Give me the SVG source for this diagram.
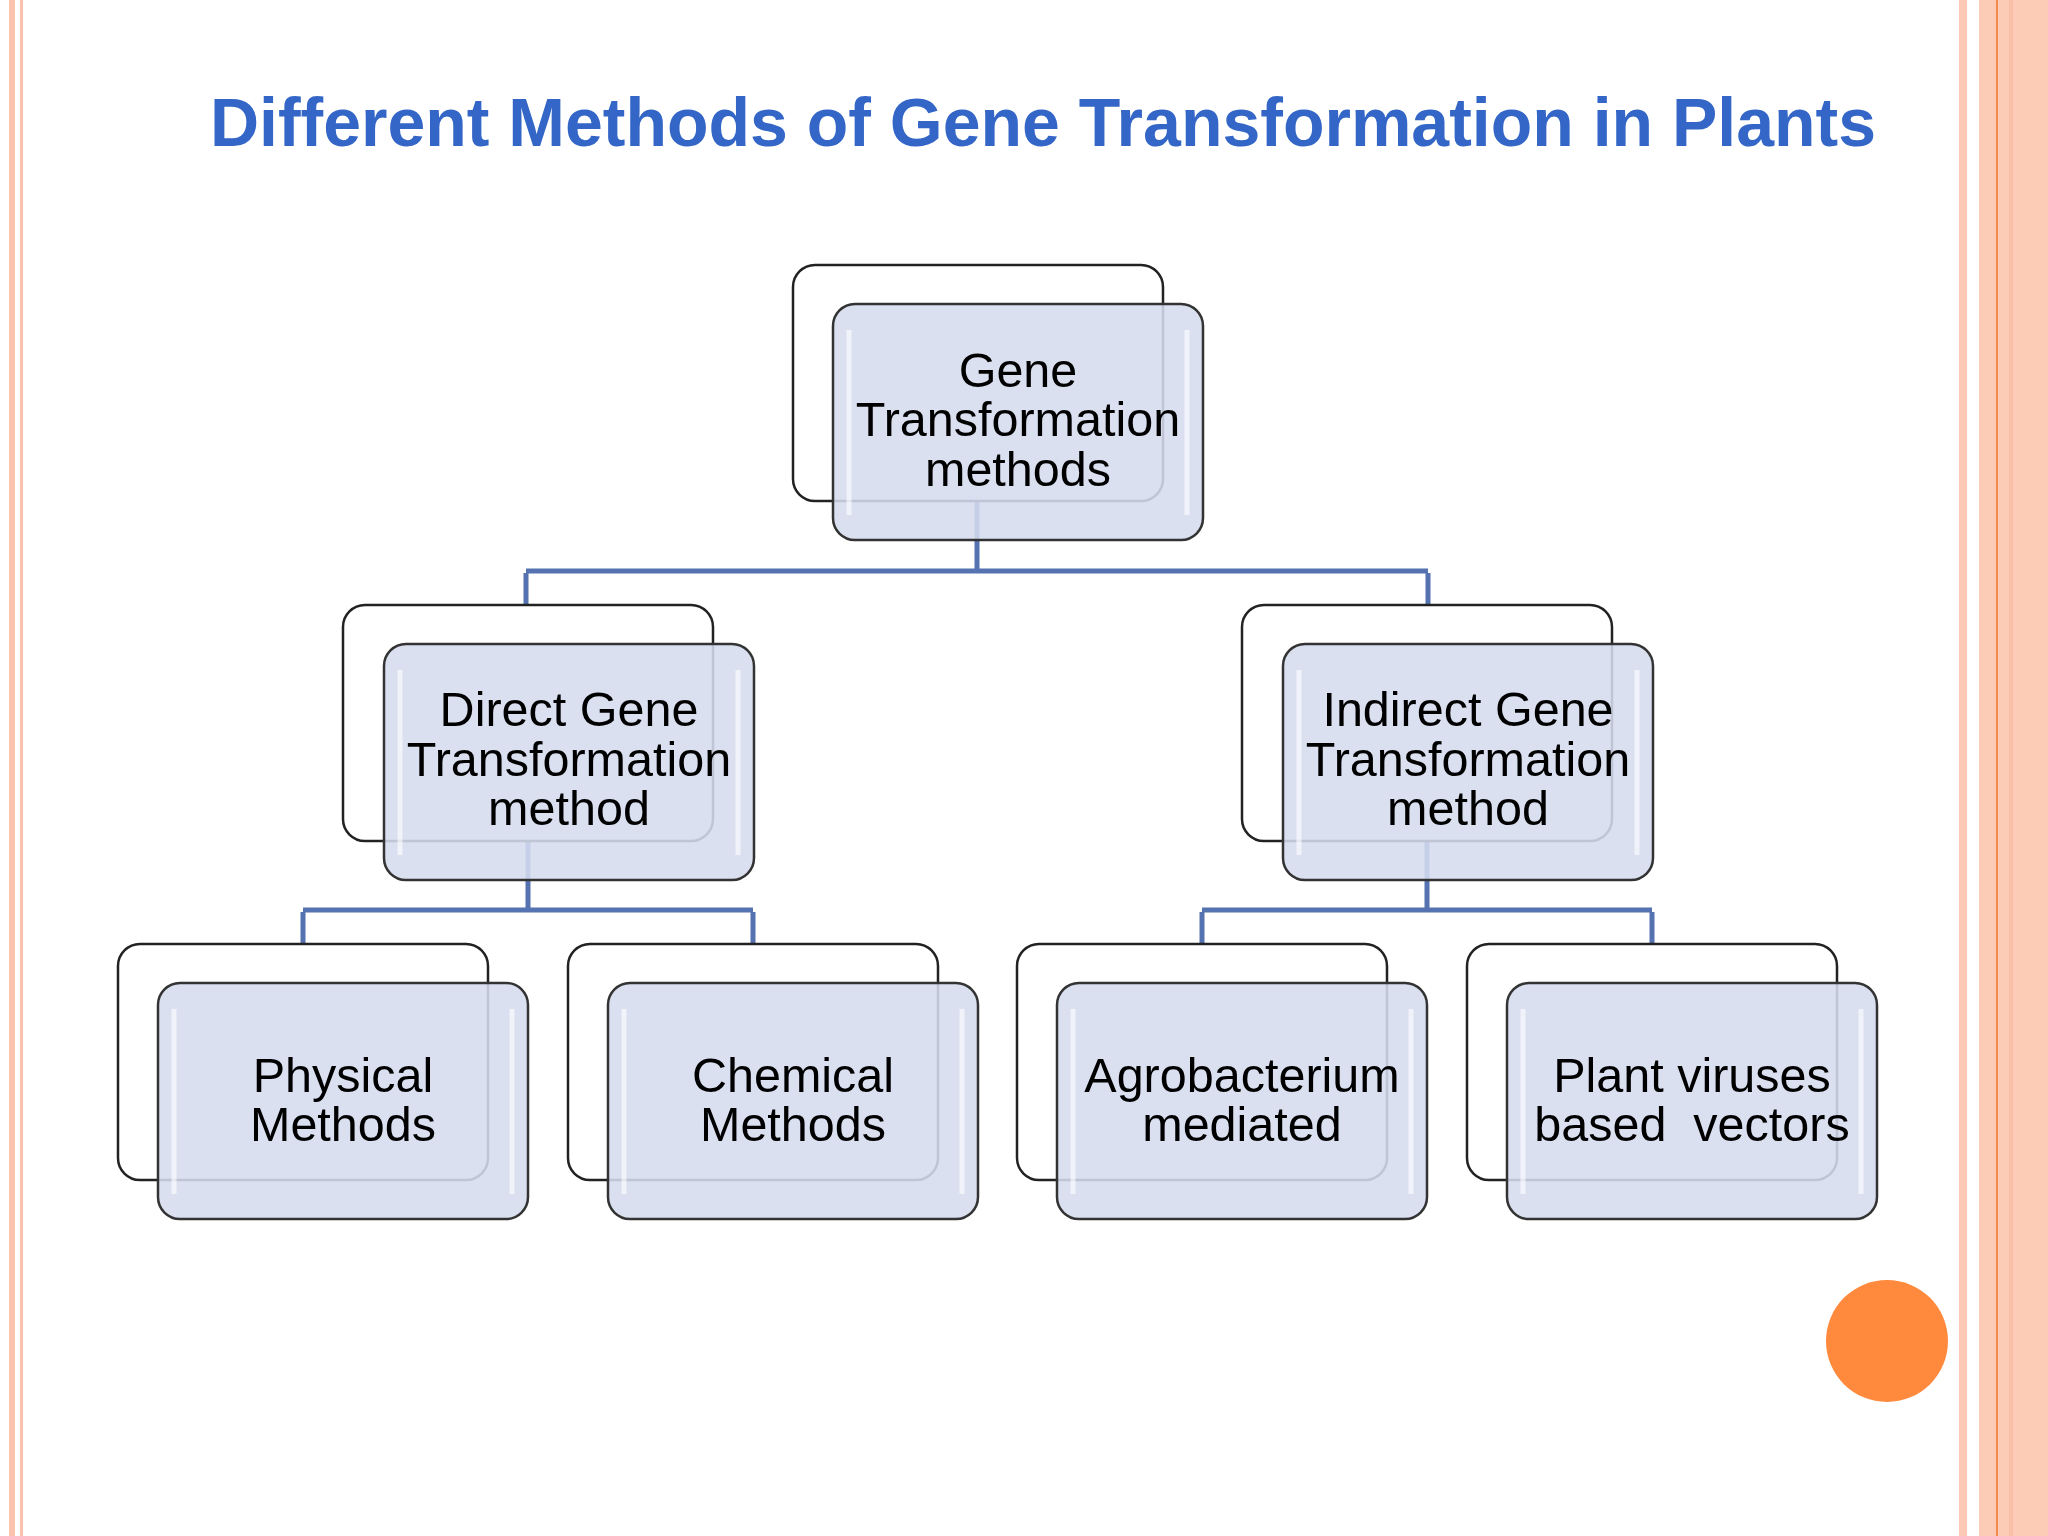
<svg xmlns="http://www.w3.org/2000/svg" width="2048" height="1536" viewBox="0 0 2048 1536">
<defs>
<style>
.back{fill:#fff;stroke:#222;stroke-width:2.5}
.front{fill:#D5DCEE;fill-opacity:0.88;stroke:#333;stroke-width:2.5}
.hl{fill:none;stroke:#fff;stroke-width:5;stroke-opacity:0.6}
.t{font-family:"Liberation Sans",Arial,sans-serif;font-size:48.5px;fill:#000;text-anchor:middle}
.c{fill:none;stroke:#5573B0;stroke-width:5}
</style>
</defs>
<rect width="2048" height="1536" fill="#fff"/>
<rect x="9" y="0" width="6" height="1536" fill="#F9C3AE"/>
<rect x="20" y="0" width="3" height="1536" fill="#F9C3AE"/>
<rect x="1959" y="0" width="8" height="1536" fill="#FBC9B4"/>
<rect x="1979" y="0" width="69" height="1536" fill="#FCCCB7"/>
<rect x="1996" y="0" width="2" height="1536" fill="#F28B4C"/>
<rect x="2009" y="0" width="4" height="1536" fill="#F9BFA8"/>
<text x="1043" y="146" font-family="Liberation Sans,Arial,sans-serif" font-weight="bold" font-size="68" fill="#3366C6" text-anchor="middle">Different Methods of Gene Transformation in Plants</text>
<g id="connectors">
<path class="c" d="M977 500V571M526 573V605M1428 573V605M526 571H1428"/>
<path class="c" d="M528 840V910M303 912V944M753 912V944M303 910H753"/>
<path class="c" d="M1427 840V910M1202 912V944M1652 912V944M1202 910H1652"/>
</g>
<g id="n0"><rect class="back" x="793" y="265" width="370" height="236" rx="22"/><rect class="front" x="833" y="304" width="370" height="236" rx="22"/><path class="hl" d="M849 330V515M1187 330V515"/><text class="t" x="1018" y="387">Gene</text><text class="t" x="1018" y="436">Transformation</text><text class="t" x="1018" y="486">methods</text></g>
<g id="n1"><rect class="back" x="343" y="605" width="370" height="236" rx="22"/><rect class="front" x="384" y="644" width="370" height="236" rx="22"/><path class="hl" d="M400 670V855M738 670V855"/><text class="t" x="569" y="726">Direct Gene</text><text class="t" x="569" y="776">Transformation</text><text class="t" x="569" y="825">method</text></g>
<g id="n2"><rect class="back" x="1242" y="605" width="370" height="236" rx="22"/><rect class="front" x="1283" y="644" width="370" height="236" rx="22"/><path class="hl" d="M1299 670V855M1637 670V855"/><text class="t" x="1468" y="726">Indirect Gene</text><text class="t" x="1468" y="776">Transformation</text><text class="t" x="1468" y="825">method</text></g>
<g id="n3"><rect class="back" x="118" y="944" width="370" height="236" rx="22"/><rect class="front" x="158" y="983" width="370" height="236" rx="22"/><path class="hl" d="M174 1009V1194M512 1009V1194"/><text class="t" x="343" y="1092">Physical</text><text class="t" x="343" y="1141">Methods</text></g>
<g id="n4"><rect class="back" x="568" y="944" width="370" height="236" rx="22"/><rect class="front" x="608" y="983" width="370" height="236" rx="22"/><path class="hl" d="M624 1009V1194M962 1009V1194"/><text class="t" x="793" y="1092">Chemical</text><text class="t" x="793" y="1141">Methods</text></g>
<g id="n5"><rect class="back" x="1017" y="944" width="370" height="236" rx="22"/><rect class="front" x="1057" y="983" width="370" height="236" rx="22"/><path class="hl" d="M1073 1009V1194M1411 1009V1194"/><text class="t" x="1242" y="1092">Agrobacterium</text><text class="t" x="1242" y="1141">mediated</text></g>
<g id="n6"><rect class="back" x="1467" y="944" width="370" height="236" rx="22"/><rect class="front" x="1507" y="983" width="370" height="236" rx="22"/><path class="hl" d="M1523 1009V1194M1861 1009V1194"/><text class="t" x="1692" y="1092">Plant viruses</text><text class="t" x="1692" y="1141" xml:space="preserve">based  vectors</text></g>
<circle cx="1887" cy="1341" r="61" fill="#FF8A3D"/>
</svg>
